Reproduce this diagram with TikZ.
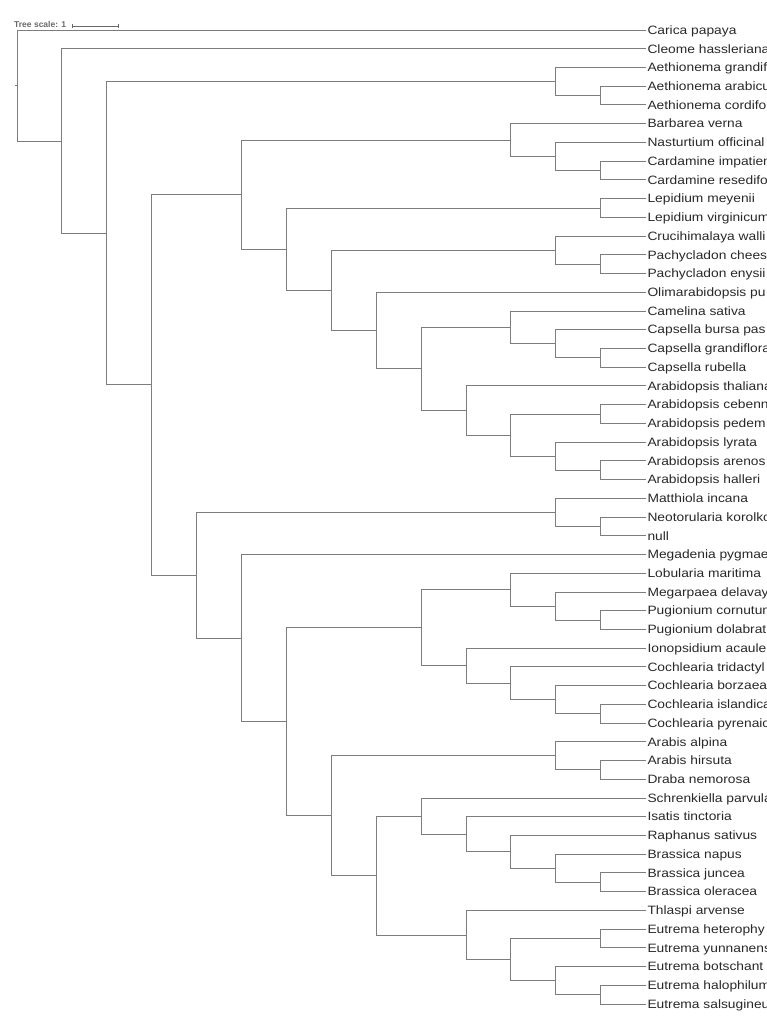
\documentclass[tikz,border=0pt]{standalone}
\usepackage{fontspec}
\setmainfont{Liberation Sans}
\newfontfamily\labelfont[FakeStretch=1.14]{Liberation Sans}
\definecolor{linegray}{RGB}{125,125,125}
\definecolor{labelgray}{RGB}{40,40,40}
\definecolor{scalegray}{RGB}{105,105,105}
\newcommand\mkclade[3]{\draw[branch] (#1) |- (#2); \draw[branch] (#1) |- (#3);}
\begin{document}
\begin{tikzpicture}[x=1pt,y=-1pt,
  branch/.style={draw=linegray, line width=0.85pt},
  leaflabel/.style={anchor=base west, inner sep=0pt, font=\labelfont\fontsize{12.1}{14}\selectfont, text=labelgray, xshift=1.7pt, yshift=-4.3pt},
  scaletext/.style={anchor=base west, inner sep=0pt, font=\bfseries\fontsize{8.5}{10}\selectfont, text=scalegray},
  scalebar/.style={draw=scalegray, line width=0.7pt}]
\useasboundingbox (0,0) rectangle (767,1024);
\clip (0,0) rectangle (767,1024);
% leaves
\coordinate (L1) at (645.6,30.00);
\coordinate (L2) at (645.6,48.73);
\coordinate (L3) at (645.6,67.46);
\coordinate (L4) at (645.6,86.19);
\coordinate (L5) at (645.6,104.92);
\coordinate (L6) at (645.6,123.65);
\coordinate (L7) at (645.6,142.38);
\coordinate (L8) at (645.6,161.12);
\coordinate (L9) at (645.6,179.85);
\coordinate (L10) at (645.6,198.58);
\coordinate (L11) at (645.6,217.31);
\coordinate (L12) at (645.6,236.04);
\coordinate (L13) at (645.6,254.77);
\coordinate (L14) at (645.6,273.50);
\coordinate (L15) at (645.6,292.23);
\coordinate (L16) at (645.6,310.96);
\coordinate (L17) at (645.6,329.69);
\coordinate (L18) at (645.6,348.42);
\coordinate (L19) at (645.6,367.15);
\coordinate (L20) at (645.6,385.88);
\coordinate (L21) at (645.6,404.62);
\coordinate (L22) at (645.6,423.35);
\coordinate (L23) at (645.6,442.08);
\coordinate (L24) at (645.6,460.81);
\coordinate (L25) at (645.6,479.54);
\coordinate (L26) at (645.6,498.27);
\coordinate (L27) at (645.6,517.00);
\coordinate (L28) at (645.6,535.73);
\coordinate (L29) at (645.6,554.46);
\coordinate (L30) at (645.6,573.19);
\coordinate (L31) at (645.6,591.92);
\coordinate (L32) at (645.6,610.65);
\coordinate (L33) at (645.6,629.38);
\coordinate (L34) at (645.6,648.12);
\coordinate (L35) at (645.6,666.85);
\coordinate (L36) at (645.6,685.58);
\coordinate (L37) at (645.6,704.31);
\coordinate (L38) at (645.6,723.04);
\coordinate (L39) at (645.6,741.77);
\coordinate (L40) at (645.6,760.50);
\coordinate (L41) at (645.6,779.23);
\coordinate (L42) at (645.6,797.96);
\coordinate (L43) at (645.6,816.69);
\coordinate (L44) at (645.6,835.42);
\coordinate (L45) at (645.6,854.15);
\coordinate (L46) at (645.6,872.88);
\coordinate (L47) at (645.6,891.62);
\coordinate (L48) at (645.6,910.35);
\coordinate (L49) at (645.6,929.08);
\coordinate (L50) at (645.6,947.81);
\coordinate (L51) at (645.6,966.54);
\coordinate (L52) at (645.6,985.27);
\coordinate (L53) at (645.6,1004.00);
% internal nodes
\coordinate (R0) at (15.3,85.48);
\coordinate (R) at (17,85.48);
\coordinate (A) at (61.9,140.97);
\coordinate (B) at (106.8,233.2);
\coordinate (Ae) at (555.8,81.51);
\coordinate (Ae2) at (600.7,95.56);
\coordinate (C) at (151.7,384.89);
\coordinate (D) at (241.5,194.59);
\coordinate (Ba) at (510.9,140.04);
\coordinate (Na) at (555.8,156.43);
\coordinate (Ca) at (600.7,170.49);
\coordinate (F) at (286.4,249.14);
\coordinate (Le) at (600.7,207.95);
\coordinate (G) at (331.3,290.33);
\coordinate (Cr) at (555.8,250.09);
\coordinate (Pa) at (600.7,264.14);
\coordinate (H) at (376.2,330.57);
\coordinate (I) at (421.1,368.91);
\coordinate (Cm) at (510.9,327.35);
\coordinate (Cs) at (555.8,343.74);
\coordinate (Cs2) at (600.7,357.79);
\coordinate (Ar) at (466,410.47);
\coordinate (Ar2) at (510.9,435.06);
\coordinate (Ar3) at (600.7,413.99);
\coordinate (Ar4) at (555.8,456.13);
\coordinate (Ar5) at (600.7,470.18);
\coordinate (E) at (196.6,575.19);
\coordinate (Ma) at (555.8,512.32);
\coordinate (Ma2) at (600.7,526.37);
\coordinate (J) at (241.5,638.06);
\coordinate (K) at (286.4,721.65);
\coordinate (Lq) at (421.1,627.63);
\coordinate (Lo) at (510.9,589.58);
\coordinate (Mg) at (555.8,605.97);
\coordinate (Pu) at (600.7,620.02);
\coordinate (Io) at (466,665.68);
\coordinate (Co) at (510.9,683.24);
\coordinate (Co2) at (555.8,699.63);
\coordinate (Co3) at (600.7,713.68);
\coordinate (M) at (331.3,815.67);
\coordinate (Ab) at (555.8,755.82);
\coordinate (Ab2) at (600.7,769.87);
\coordinate (N) at (376.2,875.52);
\coordinate (Sc) at (421.1,816.1);
\coordinate (Is) at (466,834.25);
\coordinate (Rp) at (510.9,851.81);
\coordinate (Br) at (555.8,868.2);
\coordinate (Br2) at (600.7,882.25);
\coordinate (Th) at (466,934.94);
\coordinate (Eu) at (510.9,959.52);
\coordinate (Eu1) at (600.7,938.45);
\coordinate (Eu2) at (555.8,980.59);
\coordinate (Eu3) at (600.7,994.64);
% branches
\draw[branch] (R0) -- (R);
\mkclade{R}{L1}{A}
\mkclade{A}{L2}{B}
\mkclade{B}{Ae}{C}
\mkclade{Ae}{L3}{Ae2}
\mkclade{Ae2}{L4}{L5}
\mkclade{C}{D}{E}
\mkclade{D}{Ba}{F}
\mkclade{Ba}{L6}{Na}
\mkclade{Na}{L7}{Ca}
\mkclade{Ca}{L8}{L9}
\mkclade{F}{Le}{G}
\mkclade{Le}{L10}{L11}
\mkclade{G}{Cr}{H}
\mkclade{Cr}{L12}{Pa}
\mkclade{Pa}{L13}{L14}
\mkclade{H}{L15}{I}
\mkclade{I}{Cm}{Ar}
\mkclade{Cm}{L16}{Cs}
\mkclade{Cs}{L17}{Cs2}
\mkclade{Cs2}{L18}{L19}
\mkclade{Ar}{L20}{Ar2}
\mkclade{Ar2}{Ar3}{Ar4}
\mkclade{Ar3}{L21}{L22}
\mkclade{Ar4}{L23}{Ar5}
\mkclade{Ar5}{L24}{L25}
\mkclade{E}{Ma}{J}
\mkclade{Ma}{L26}{Ma2}
\mkclade{Ma2}{L27}{L28}
\mkclade{J}{L29}{K}
\mkclade{K}{Lq}{M}
\mkclade{Lq}{Lo}{Io}
\mkclade{Lo}{L30}{Mg}
\mkclade{Mg}{L31}{Pu}
\mkclade{Pu}{L32}{L33}
\mkclade{Io}{L34}{Co}
\mkclade{Co}{L35}{Co2}
\mkclade{Co2}{L36}{Co3}
\mkclade{Co3}{L37}{L38}
\mkclade{M}{Ab}{N}
\mkclade{Ab}{L39}{Ab2}
\mkclade{Ab2}{L40}{L41}
\mkclade{N}{Sc}{Th}
\mkclade{Sc}{L42}{Is}
\mkclade{Is}{L43}{Rp}
\mkclade{Rp}{L44}{Br}
\mkclade{Br}{L45}{Br2}
\mkclade{Br2}{L46}{L47}
\mkclade{Th}{L48}{Eu}
\mkclade{Eu}{Eu1}{Eu2}
\mkclade{Eu1}{L49}{L50}
\mkclade{Eu2}{L51}{Eu3}
\mkclade{Eu3}{L52}{L53}
% labels
\node[leaflabel] (T1) at (L1) {Carica papaya};
\node[leaflabel] (T2) at (L2) {Cleome hassleriana};
\node[leaflabel] (T3) at (L3) {Aethionema grandif};
\node[leaflabel] (T4) at (L4) {Aethionema arabicu};
\node[leaflabel] (T5) at (L5) {Aethionema cordifo};
\node[leaflabel] (T6) at (L6) {Barbarea verna};
\node[leaflabel] (T7) at (L7) {Nasturtium officinal};
\node[leaflabel] (T8) at (L8) {Cardamine impatien};
\node[leaflabel] (T9) at (L9) {Cardamine resedifo};
\node[leaflabel] (T10) at (L10) {Lepidium meyenii};
\node[leaflabel] (T11) at (L11) {Lepidium virginicum};
\node[leaflabel] (T12) at (L12) {Crucihimalaya walli};
\node[leaflabel] (T13) at (L13) {Pachycladon chees};
\node[leaflabel] (T14) at (L14) {Pachycladon enysii};
\node[leaflabel] (T15) at (L15) {Olimarabidopsis pu};
\node[leaflabel] (T16) at (L16) {Camelina sativa};
\node[leaflabel] (T17) at (L17) {Capsella bursa pas};
\node[leaflabel] (T18) at (L18) {Capsella grandiflora};
\node[leaflabel] (T19) at (L19) {Capsella rubella};
\node[leaflabel] (T20) at (L20) {Arabidopsis thaliana};
\node[leaflabel] (T21) at (L21) {Arabidopsis cebenn};
\node[leaflabel] (T22) at (L22) {Arabidopsis pedem};
\node[leaflabel] (T23) at (L23) {Arabidopsis lyrata};
\node[leaflabel] (T24) at (L24) {Arabidopsis arenos};
\node[leaflabel] (T25) at (L25) {Arabidopsis halleri};
\node[leaflabel] (T26) at (L26) {Matthiola incana};
\node[leaflabel] (T27) at (L27) {Neotorularia korolko};
\node[leaflabel] (T28) at (L28) {null};
\node[leaflabel] (T29) at (L29) {Megadenia pygmae};
\node[leaflabel] (T30) at (L30) {Lobularia maritima};
\node[leaflabel] (T31) at (L31) {Megarpaea delavay};
\node[leaflabel] (T32) at (L32) {Pugionium cornutum};
\node[leaflabel] (T33) at (L33) {Pugionium dolabrat};
\node[leaflabel] (T34) at (L34) {Ionopsidium acaule};
\node[leaflabel] (T35) at (L35) {Cochlearia tridactyl};
\node[leaflabel] (T36) at (L36) {Cochlearia borzaea};
\node[leaflabel] (T37) at (L37) {Cochlearia islandica};
\node[leaflabel] (T38) at (L38) {Cochlearia pyrenaic};
\node[leaflabel] (T39) at (L39) {Arabis alpina};
\node[leaflabel] (T40) at (L40) {Arabis hirsuta};
\node[leaflabel] (T41) at (L41) {Draba nemorosa};
\node[leaflabel] (T42) at (L42) {Schrenkiella parvula};
\node[leaflabel] (T43) at (L43) {Isatis tinctoria};
\node[leaflabel] (T44) at (L44) {Raphanus sativus};
\node[leaflabel] (T45) at (L45) {Brassica napus};
\node[leaflabel] (T46) at (L46) {Brassica juncea};
\node[leaflabel] (T47) at (L47) {Brassica oleracea};
\node[leaflabel] (T48) at (L48) {Thlaspi arvense};
\node[leaflabel] (T49) at (L49) {Eutrema heterophy};
\node[leaflabel] (T50) at (L50) {Eutrema yunnanens};
\node[leaflabel] (T51) at (L51) {Eutrema botschant};
\node[leaflabel] (T52) at (L52) {Eutrema halophilum};
\node[leaflabel] (T53) at (L53) {Eutrema salsugineu};
% tree scale
\node[scaletext] (ts) at (14,28) {Tree scale: 1};
\coordinate (sb1) at (72.7,26);
\coordinate (sb2) at (118,26);
\coordinate (sb1a) at (72.7,24.3);
\coordinate (sb1b) at (72.7,27.7);
\coordinate (sb2a) at (118,24.3);
\coordinate (sb2b) at (118,27.7);
\draw[scalebar] (sb1) -- (sb2);
\draw[scalebar] (sb1a) -- (sb1b);
\draw[scalebar] (sb2a) -- (sb2b);
\end{tikzpicture}
\end{document}
